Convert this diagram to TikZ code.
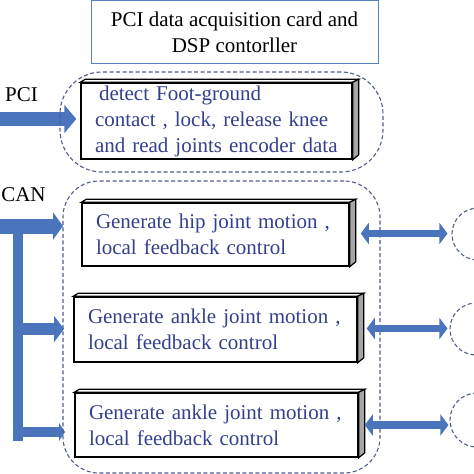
\documentclass[tikz,border=0pt]{standalone}
\usepackage{fontspec}
\setmainfont{Liberation Serif}
\usetikzlibrary{arrows.meta,calc}
\definecolor{arrblue}{HTML}{4A74BC}
\definecolor{txtblue}{HTML}{34408C}
\definecolor{dashc}{HTML}{4E5E8C}
\definecolor{topblue}{HTML}{5A80C4}
\tikzset{
  every node/.style={font=\fontsize{21}{26}\selectfont},
  boxthree/.style={draw=black, line width=1.5pt, fill=white, inner xsep=14pt, inner ysep=0pt,
    align=left, text=txtblue, anchor=center},
  sideface/.style={draw=black, line width=1.2pt, fill=gray!70},
  topface/.style={draw=black, line width=1.2pt, fill=white},
  container/.style={draw=dashc, dash pattern=on 4pt off 2.5pt, line width=1.1pt, inner sep=0pt},
  busarrow/.style={draw=arrblue, -{Triangle[length=10pt,width=27pt]}},
  busline/.style={draw=arrblue},
  dblarrow/.style={draw=arrblue, line width=7.5pt, {Triangle[length=8pt,width=21pt]}-{Triangle[length=8pt,width=21pt]}},
}
\newcommand\extrude[1]{%
  \draw[topface] (#1.north west) -- ++(5,-3) -- ($(#1.north east)+(6,-3)$) -- (#1.north east) -- cycle;
  \draw[sideface] (#1.north east) -- ++(6,-3) -- ($(#1.south east)+(6,-5)$) -- (#1.south east) -- cycle;
}
\begin{document}
\begin{tikzpicture}[x=1pt,y=-1pt]
\useasboundingbox (0,0) rectangle (474,474);
\clip (0,0) rectangle (474,474);

% top box
\node[draw=topblue, line width=1pt, minimum width=287pt, minimum height=63pt, align=center, inner sep=0pt] (top) at (234.5,32) {PCI data acquisition card and\\DSP contorller};

% labels
\node[anchor=center, inner sep=0pt] (pcilabel) at (21.5,95) {PCI};
\node[anchor=center, inner sep=0pt] (canlabel) at (23.5,195) {CAN};

% boxes
\node[boxthree, minimum width=271pt, minimum height=76pt, text width=243pt] (b1) at (216.5,121)
  {\hspace*{4pt}detect Foot-ground\\contact , lock, release knee\\and read joints encoder data};
\node[boxthree, minimum width=267pt, minimum height=63pt, text width=239pt] (b2) at (215.5,234.5)
  {Generate hip joint motion ,\\local feedback control};
\node[boxthree, minimum width=283pt, minimum height=65pt, text width=255pt] (b3) at (215.5,329.5)
  {Generate ankle joint motion ,\\local feedback control};
\node[boxthree, minimum width=283pt, minimum height=64pt, text width=255pt] (b4) at (216.5,425)
  {Generate ankle joint motion ,\\local feedback control};
\extrude{b1}
\extrude{b2}
\extrude{b3}
\extrude{b4}

% right partial containers
\node[container, rounded corners=26pt, minimum width=80pt, minimum height=52pt] (r1) at (492,234) {};
\node[container, rounded corners=26pt, minimum width=80pt, minimum height=52pt] (r2) at (490,329) {};
\node[container, rounded corners=27pt, minimum width=80pt, minimum height=54pt] (r3) at (490,420) {};

% PCI arrow
\coordinate (pcis) at (0,119);
\draw[busarrow, line width=14pt, -{Triangle[length=12pt,width=28pt]}] (pcis) -- ($(pcis -| b1.west)+(-4,0)$);

% CAN bus
\coordinate (cans) at (0,226);
\coordinate (busm) at (17.5,329);
\draw[busline, line width=10pt] (17.5,226) -- (17.5,441);
\draw[busarrow, line width=15pt] (cans) -- (53,226) -- ++(10,0);
\draw[busarrow, line width=12pt, -{Triangle[length=10pt,width=26pt]}] (busm) -- (64,329);
\draw[busarrow, line width=10pt, -{Triangle[length=6pt,width=18pt]}] (12.5,432) -- (65,432);

% containers
\node[container, rounded corners=42pt, minimum width=323pt, minimum height=100pt] (c1) at (221.5,122) {};
\node[container, rounded corners=36pt, minimum width=317pt, minimum height=292pt] (c2) at (221.5,327) {};

% double arrows
\draw[dblarrow] ($(b2.east)+(11,-1)$) -- ($(b2.east -| r1.west)+(-4,-1)$);
\draw[dblarrow] ($(b3.east)+(9,-1)$) -- ($(b3.east -| r2.west)+(-2,-1)$);
\draw[dblarrow] ($(b4.east)+(6,0)$) -- ($(b4.east -| r3.west)+(-1,0)$);
\end{tikzpicture}
\end{document}
